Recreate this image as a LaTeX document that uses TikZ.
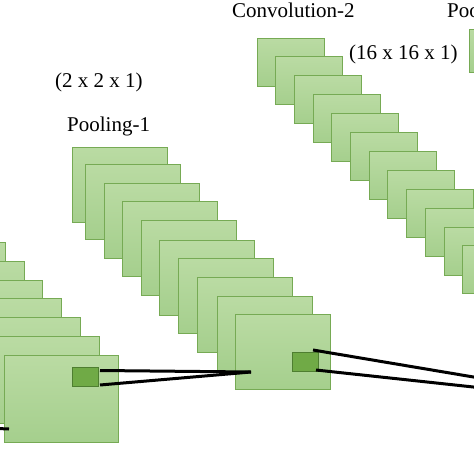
\documentclass[tikz,border=0pt]{standalone}
\usepackage{fontspec}
\setmainfont{Liberation Serif}
\definecolor{fmTop}{RGB}{186,219,163}
\definecolor{fmBot}{RGB}{165,207,141}
\definecolor{fmLine}{RGB}{118,170,84}
\definecolor{kFill}{RGB}{112,170,70}
\definecolor{kLine}{RGB}{78,126,48}
\begin{document}
\begin{tikzpicture}[x=1pt,y=-1pt,
  fmap/.style={draw=fmLine, line width=1pt, top color=fmTop, bottom color=fmBot, anchor=north west, inner sep=0pt, outer sep=0pt},
  kern/.style={draw=kLine, line width=1pt, fill=kFill, anchor=north west, inner sep=0pt, outer sep=0pt, minimum width=26pt, minimum height=19pt},
  link/.style={black, line width=3pt},
  lbl/.style={anchor=base west, inner sep=0pt, font=\fontsize{21}{25}\selectfont}]
\useasboundingbox (0,0) rectangle (474,474);
\clip (0,0) rectangle (474,474);
% stack 1 (left)
\foreach \i in {6,...,0} {
  \node[fmap, minimum width=114pt, minimum height=87pt] (s1r\i) at ({4-18.8*\i},{355-18.7*\i}) {};
}
% stack 2 (pooling-1)
\foreach \x/\y [count=\n] in {72/147, 85/164, 104/183, 122/201, 141/220, 159/240, 178/258, 197/277, 217/296, 235/314} {
  \node[fmap, minimum width=95pt, minimum height=75pt] (s2r\n) at (\x,\y) {};
}
% stack 3 (convolution-2)
\foreach \i in {0,...,11} {
  \node[fmap, minimum width=67pt, minimum height=48pt] (s3r\i) at ({257+18.7*\i},{38+18.9*\i}) {};
}
% stack 4 (pooling-2)
\node[fmap, minimum width=67pt, minimum height=43pt] (s4r1) at (469,29) {};
% kernels
\node[kern] (k1) at (72,367) {};
\node[kern] (k2) at (292,352) {};
% connector points
\coordinate (p0) at (-60,426);
\coordinate (p1) at (9,429);
\coordinate (k1a) at (100,370.5);
\coordinate (k1b) at (100,385);
\coordinate (p2) at (251,372);
\coordinate (k2a) at (313,350);
\coordinate (k2b) at (316,370);
\coordinate (p3) at (640,405);
\draw[link] (p0) -- (p1);
\draw[link] (k1a) -- (p2);
\draw[link] (k1b) -- (p2);
\draw[link] (k2a) -- (p3);
\draw[link] (k2b) -- (p3);
% labels
\node[lbl] (t1) at (55,87) {(2 x 2 x 1)};
\node[lbl] (t2) at (67,131) {Pooling-1};
\node[lbl] (t3) at (232,17) {Convolution-2};
\node[lbl] (t4) at (349,59) {(16 x 16 x 1)};
\node[lbl] (t5) at (447,17) {Pooling-2};
\end{tikzpicture}
\end{document}
